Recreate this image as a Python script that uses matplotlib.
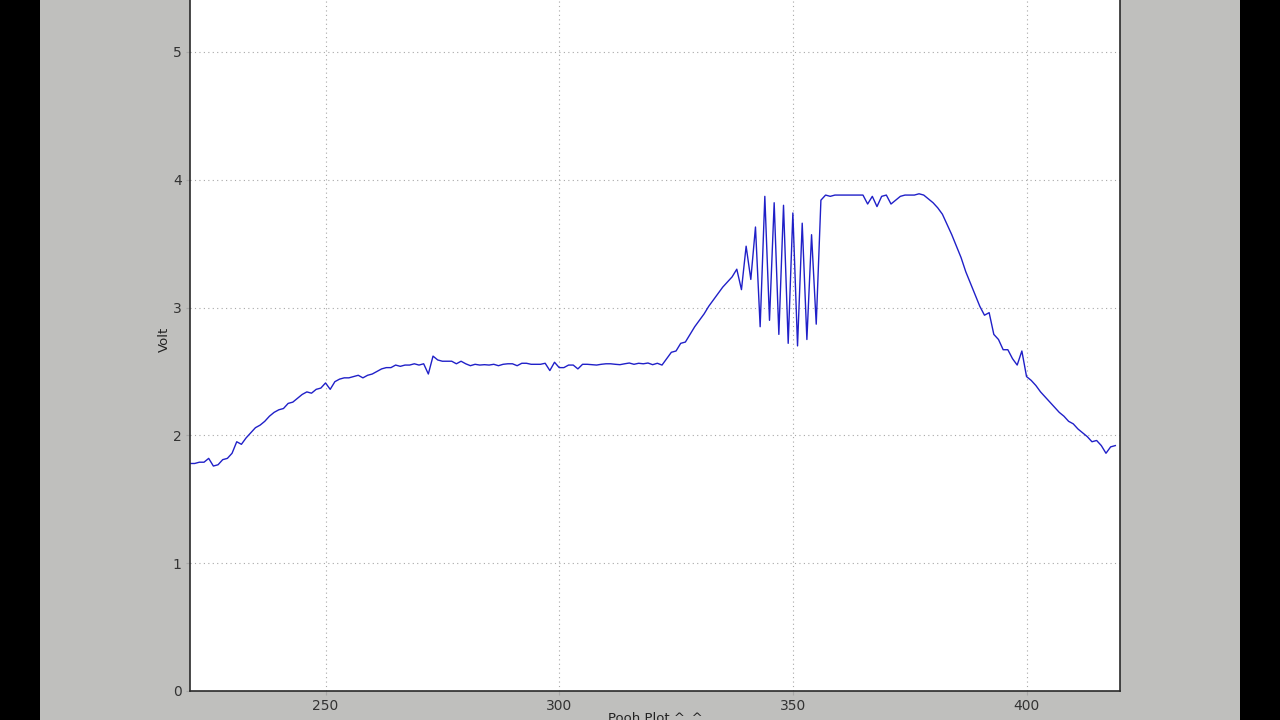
import matplotlib
matplotlib.use("Agg")
import matplotlib.pyplot as plt
from matplotlib.patches import Rectangle
import numpy as np

x_start = 221
volts = [
    1.78, 1.78, 1.79, 1.79, 1.82, 1.76, 1.77, 1.81, 1.82, 1.86,   # 221-230
    1.95, 1.93, 1.98, 2.02, 2.06, 2.08, 2.11, 2.15, 2.18, 2.20,   # 231-240
    2.21, 2.25, 2.26, 2.29, 2.32, 2.34, 2.33, 2.36, 2.37, 2.41,   # 241-250
    2.36, 2.42, 2.44, 2.45, 2.45, 2.46, 2.47, 2.45, 2.47, 2.48,   # 251-260
    2.50, 2.52, 2.53, 2.53, 2.55, 2.54, 2.55, 2.55, 2.56, 2.55,   # 261-270
    2.56, 2.48, 2.62, 2.59, 2.58, 2.58, 2.58, 2.56, 2.58, 2.56,   # 271-280
    2.545, 2.556, 2.55, 2.553, 2.55, 2.556, 2.545, 2.556, 2.56, 2.56,  # 281-290
    2.545, 2.564, 2.564, 2.556, 2.556, 2.556, 2.564, 2.507, 2.572, 2.53,  # 291-300
    2.53, 2.55, 2.55, 2.52, 2.556, 2.556, 2.553, 2.55, 2.556, 2.56,   # 301-310
    2.56, 2.556, 2.553, 2.56, 2.566, 2.556, 2.564, 2.56, 2.566, 2.553,  # 311-320
    2.564, 2.55, 2.60, 2.65, 2.66, 2.72, 2.73, 2.79, 2.85, 2.90,  # 321-330
    2.95, 3.01, 3.06, 3.11, 3.16, 3.20, 3.24, 3.30, 3.14, 3.48,   # 331-340
    3.22, 3.63, 2.85, 3.87, 2.90, 3.82, 2.79, 3.80, 2.72, 3.74,   # 341-350
    2.70, 3.66, 2.75, 3.57, 2.87, 3.84, 3.88, 3.87, 3.88, 3.88,   # 351-360
    3.88, 3.88, 3.88, 3.88, 3.88, 3.81, 3.87, 3.79, 3.87, 3.88,   # 361-370
    3.81, 3.84, 3.87, 3.88, 3.88, 3.88, 3.89, 3.88, 3.85, 3.82,   # 371-380
    3.78, 3.73, 3.65, 3.57, 3.48, 3.39, 3.28, 3.19, 3.10, 3.01,   # 381-390
    2.94, 2.96, 2.79, 2.75, 2.67, 2.67, 2.60, 2.55, 2.66, 2.46,   # 391-400
    2.43, 2.39, 2.34, 2.30, 2.26, 2.22, 2.18, 2.15, 2.11, 2.09,   # 401-410
    2.05, 2.02, 1.99, 1.95, 1.96, 1.92, 1.86, 1.91, 1.92,         # 411-419
]
samples = np.arange(x_start, x_start + len(volts))
x_ticks = [250, 300, 350, 400]
y_ticks = [0, 1, 2, 3, 4, 5]

W, H = 1280, 720
fig = plt.figure(figsize=(12.8, 7.2), dpi=100, facecolor="black")
fig.patches.append(Rectangle((40 / W, 0), 1200 / W, 1, transform=fig.transFigure,
                             facecolor="#bfbfbd", edgecolor="none", zorder=-10))

ax = fig.add_axes([190 / W, 29 / H, 930 / W, 703 / H])
ax.set_facecolor("white")
ax.plot(samples, volts, color="#2020c8", lw=1.0)

ax.set_xlim(221, 420)
ax.set_ylim(0, 5.5)
ax.set_xticks(x_ticks)
ax.set_yticks(y_ticks)
ax.grid(True, color="#a8a8a8", linestyle=(0, (1, 3)), linewidth=0.8)

for s in ax.spines.values():
    s.set_color("#2a2a2a")
    s.set_linewidth(1.2)

ax.tick_params(axis="both", direction="out", length=3, width=0.8, color="#a8a8a8",
               labelsize=10, labelcolor="#333333", pad=3)

ax.set_ylabel("Volt", fontsize=9.5, color="#222222")
ax.yaxis.set_label_coords(-0.0204, 0.5)
ax.set_xlabel("Pooh Plot ^_^", fontsize=9.5, color="#222222")
ax.xaxis.set_label_coords(0.5, -0.029)

fig.savefig("out.png", dpi=100, facecolor=fig.get_facecolor())
